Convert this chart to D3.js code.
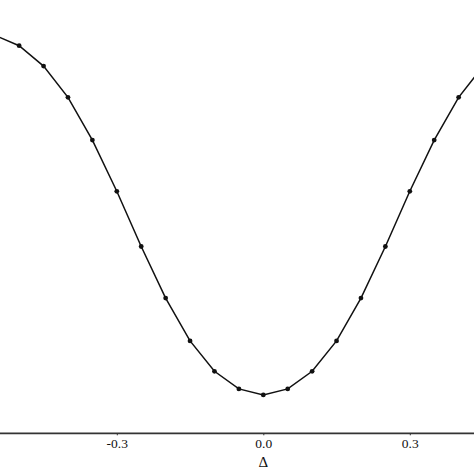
<html lang="en">
  <head>
    <meta charset="utf-8">
    <script src="https://d3js.org/d3.v7.min.js"></script>
    <style type="text/css">
body {
  margin: 0;
  background: white;
}
svg text {
  font-family: "Liberation Serif", "DejaVu Serif", serif;
}
    </style>
  </head>
  <body>
    <div id="chart"></div>
    <script type="text/javascript">
const width = 474;
const height = 474;

// Δ values and the curve value at each (y has no axis in the picture, arbitrary units)
const deltas = [-0.55, -0.5, -0.45, -0.4, -0.35, -0.3, -0.25, -0.2, -0.15, -0.1, -0.05, 0,
                0.05, 0.1, 0.15, 0.2, 0.25, 0.3, 0.35, 0.4, 0.45, 0.5];
const values = [0.995, 0.969, 0.918, 0.840, 0.733, 0.605, 0.467, 0.338, 0.231, 0.155, 0.111, 0.096,
                0.111, 0.155, 0.231, 0.338, 0.467, 0.605, 0.733, 0.840, 0.918, 0.969];
const xTicks = [-0.3, 0.0, 0.3];
const xLabel = "Δ";

const axisY = 433.3;

let x = d3.scaleLinear()
  .domain([-0.3, 0.3])
  .range([116.8, 409.8]);

let y = d3.scaleLinear()
  .domain([0, 1])
  .range([axisY, 33.3]);

let data = deltas.map((d, i) => ({d: d, v: values[i]}));

let svg = d3.select("#chart").append("svg")
  .attr("width", width)
  .attr("height", height)
  .style("display", "block");

let line = d3.line()
  .x(d => x(d.d))
  .y(d => y(d.v));

let plot = svg.append("g");

plot.append("path")
  .datum(data)
  .attr("fill", "none")
  .attr("stroke", "#111")
  .attr("stroke-width", 1.5)
  .attr("d", line);

plot.append("g")
  .selectAll("circle")
  .data(data)
  .join("circle")
    .attr("cx", d => x(d.d))
    .attr("cy", d => y(d.v))
    .attr("r", 2.4)
    .attr("fill", "#111");

// x axis across the full width
let xAxis = g => g
  .attr("transform", `translate(0,${axisY})`)
  .call(d3.axisBottom(x)
    .tickValues(xTicks)
    .tickFormat(d => d.toFixed(1))
    .tickSize(2)
    .tickPadding(3))
  .call(g => g.select(".domain").remove())
  .call(g => g.selectAll(".tick line").attr("stroke", "#333"))
  .call(g => g.selectAll(".tick text")
    .style("font-family", "'Liberation Serif', 'DejaVu Serif', serif")
    .style("font-size", "13.5px")
    .attr("fill", "#111"));

svg.append("line")
  .attr("x1", 0)
  .attr("x2", width)
  .attr("y1", axisY)
  .attr("y2", axisY)
  .attr("stroke", "#333")
  .attr("stroke-width", 1.8);

svg.append("g").call(xAxis);

svg.append("text")
  .attr("x", x(0))
  .attr("y", 467)
  .attr("text-anchor", "middle")
  .style("font-family", "'Liberation Serif', 'DejaVu Serif', serif")
  .style("font-size", "15px")
  .attr("fill", "#111")
  .text(xLabel);
    </script>
  </body>
</html>
